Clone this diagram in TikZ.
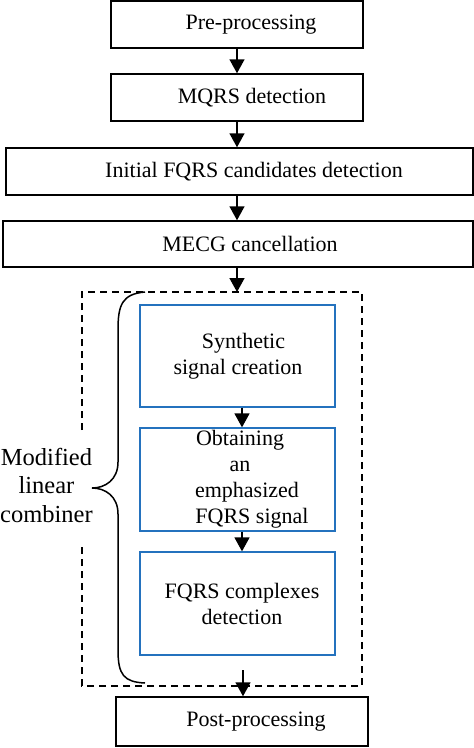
\documentclass[tikz,border=0pt]{standalone}
\usepackage{fontspec}
\setmainfont{Liberation Serif}
\usetikzlibrary{arrows.meta}
\definecolor{boxblue}{RGB}{36,114,190}
\begin{document}
\begin{tikzpicture}[x=1pt,y=1pt,
  txt/.style={font=\fontsize{22}{26}\selectfont},
  mainbox/.style={draw=black, line width=1.5pt, rectangle, inner sep=0pt, minimum height=47pt, txt},
  bluebox/.style={draw=boxblue, line width=1.3pt, rectangle, inner sep=0pt, minimum width=195pt, minimum height=102pt, align=center, txt},
  arr/.style={line width=1.5pt, -{Triangle[width=15pt,length=14pt]}},
  dashbox/.style={line width=1.4pt, dash pattern=on 7pt off 5pt},
  bracestyle/.style={line width=1.5pt}]
\useasboundingbox (0,0) rectangle (474,-748);
\fill[white] (0,0) rectangle (474,-748);

\node[mainbox, minimum width=252pt] (pre) at (237,-24.5) {\hspace*{28pt}\raisebox{-2pt}{Pre-processing}};
\node[mainbox, minimum width=252pt] (mqrs) at (237,-97.5) {\hspace*{30pt}\raisebox{-2pt}{MQRS detection}};
\node[mainbox, minimum width=467pt] (init) at (239.5,-171.5) {\hspace*{29pt}\raisebox{-2pt}{Initial FQRS candidates detection}};
\node[mainbox, minimum width=470pt, minimum height=46pt] (mecg) at (238,-244) {\hspace*{24pt}\raisebox{-2pt}{MECG cancellation}};

\node[bluebox] (b1) at (237.5,-356) {\hspace*{12pt}Synthetic\\\hspace*{1pt}signal creation};
\node[bluebox, minimum height=103pt] (b2) at (237.5,-479.5) {\hspace*{5pt}Obtaining\\\hspace*{5pt}an\\\hspace*{19pt}emphasized\\\hspace*{29pt}FQRS signal};
\node[bluebox, minimum height=103pt] (b3) at (237.5,-603.5) {\hspace*{9pt}FQRS complexes\\\hspace*{9pt}detection};

\node[mainbox, minimum width=252pt, minimum height=49pt] (post) at (242,-721.5) {\hspace*{28pt}\raisebox{-2pt}{Post-processing}};

% dashed group box with gap for the label
\draw[dashbox] (82,-430) -- (82,-292) -- (362,-292) -- (362,-686) -- (82,-686) -- (82,-543);

% brace
\draw[bracestyle] (145,-292) .. controls (122,-294) and (118,-305) .. (118,-330)
  -- (118,-462) .. controls (118,-480) and (105,-488) .. (92,-488)
  .. controls (105,-488) and (118,-496) .. (118,-514)
  -- (118,-650) .. controls (118,-675) and (124,-682) .. (145,-683);

\node[font=\fontsize{24.5}{28.5}\selectfont, align=center] (lab) at (46.5,-485) {Modified\\linear\\combiner};

% connectors
\coordinate (dtop) at (237,-292);
\coordinate (dout) at (243,-670);
\draw[arr] (pre.south) -- (mqrs.north);
\draw[arr] (mqrs.south) -- (mqrs.south |- init.north);
\draw[arr] (mqrs.south |- init.south) -- (mqrs.south |- mecg.north);
\draw[arr] (mqrs.south |- mecg.south) -- (dtop);
\draw[arr] ([xshift=4.5pt]b1.south) -- ([xshift=4.5pt]b2.north);
\draw[arr] ([xshift=4.5pt]b2.south) -- ([xshift=4.5pt]b3.north);
\draw[arr] (dout) -- (dout |- post.north);
\end{tikzpicture}
\end{document}
